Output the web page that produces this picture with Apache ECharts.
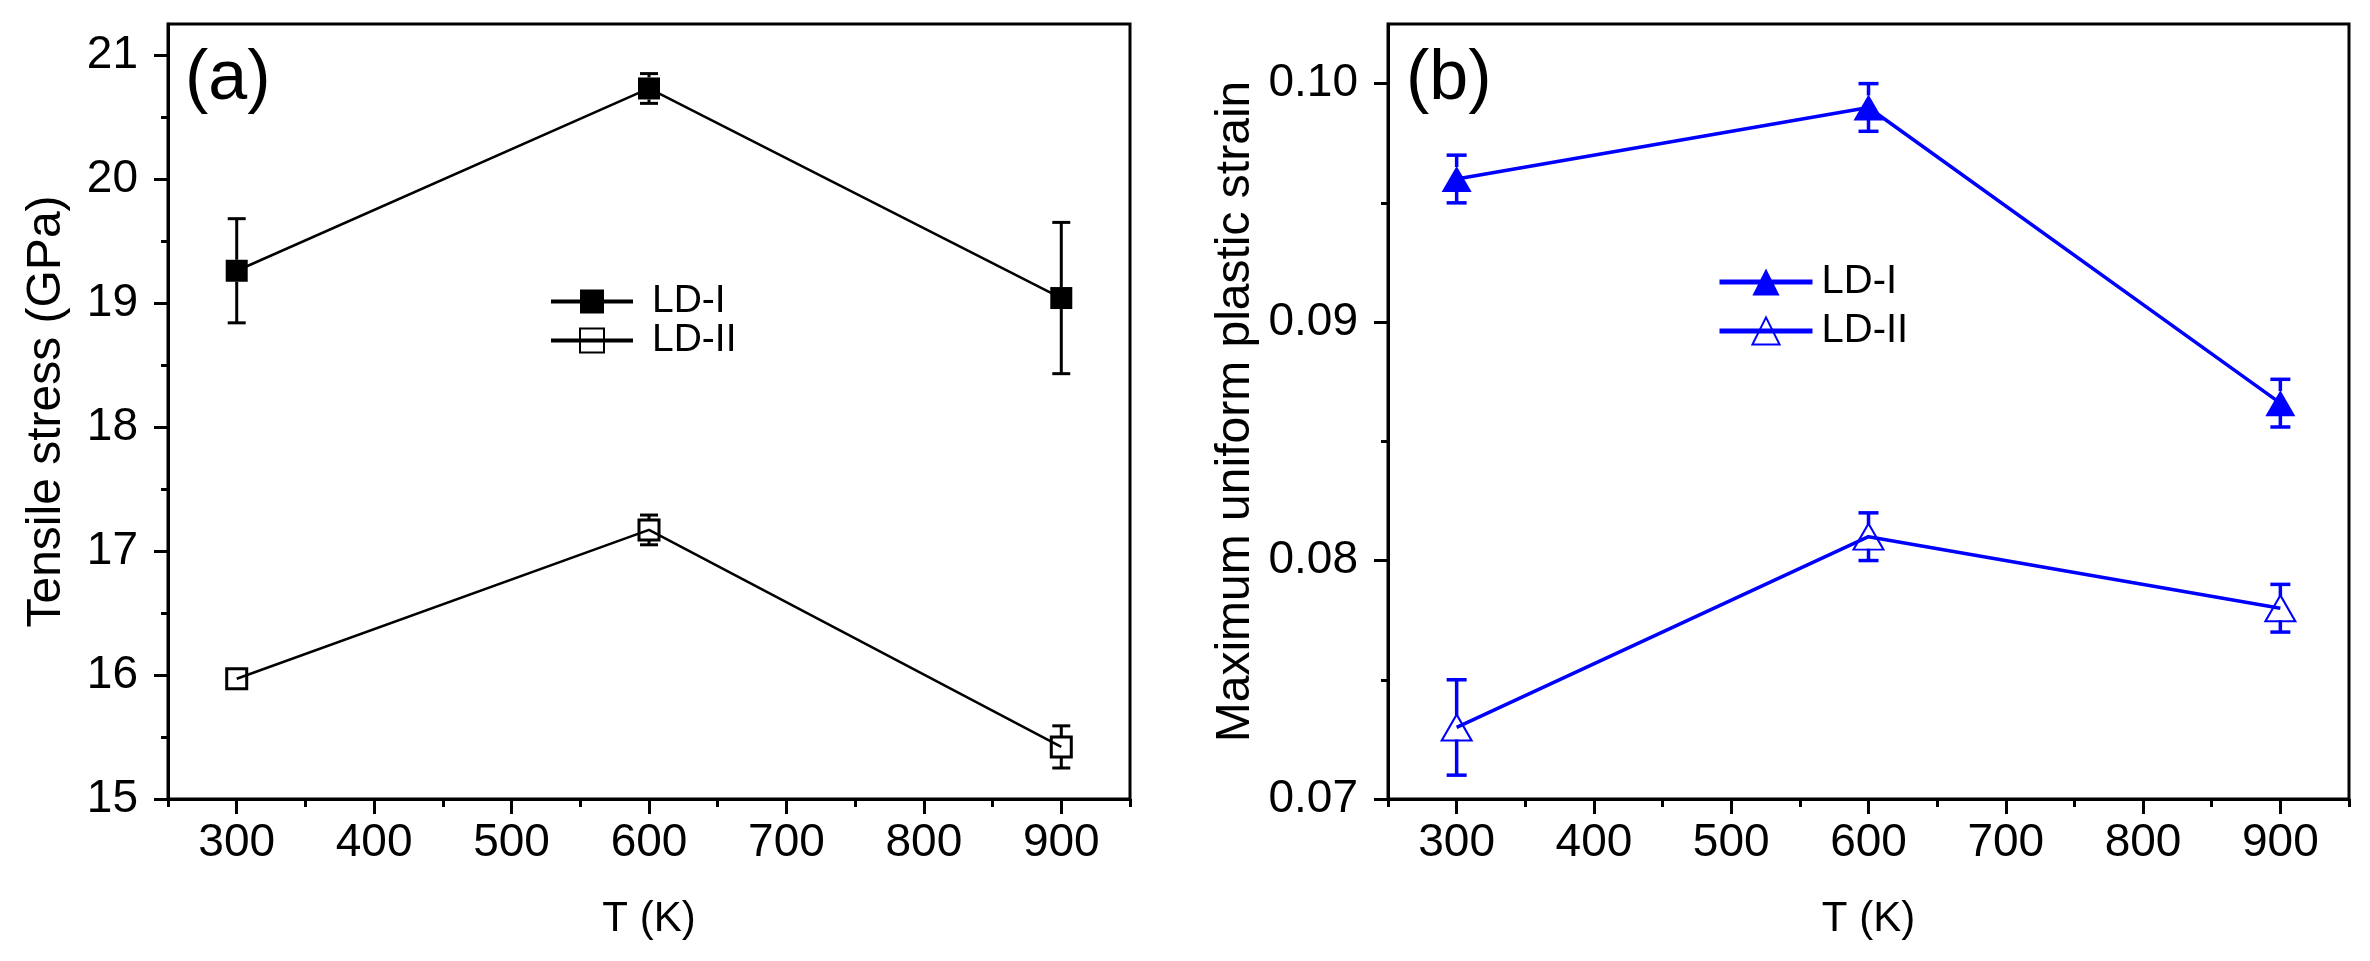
<!DOCTYPE html>
<html>
<head>
<meta charset="utf-8">
<script src="https://cdn.jsdelivr.net/npm/echarts@6/dist/echarts.min.js"></script>
<style>
html,body{margin:0;padding:0;background:#fff;}
#chart{width:2370px;height:961px;}
</style>
</head>
<body>
<div id="chart"></div>
<script>
// ---- data ----
const temps = [300, 600, 900];
const stressLD1 = [19.26, 20.73, 19.04];
const stressLD1Err = [0.42, 0.12, 0.61];
const stressLD2 = [15.97, 17.17, 15.42];
const stressLD2Err = [0.03, 0.12, 0.17];
const strainLD1 = [0.0960, 0.0990, 0.0866];
const strainLD1Err = [0.001, 0.001, 0.001];
const strainLD2 = [0.0730, 0.0810, 0.0780];
const strainLD2Err = [0.002, 0.001, 0.001];

const xMajorTicks = [300, 400, 500, 600, 700, 800, 900];
const xMinorTicks = [250, 350, 450, 550, 650, 750, 850, 950];
const stressMajorTicks = [15, 16, 17, 18, 19, 20, 21];
const stressMinorTicks = [15.5, 16.5, 17.5, 18.5, 19.5, 20.5];
const strainMajorTicks = [0.07, 0.08, 0.09, 0.10];
const strainMinorTicks = [0.075, 0.085, 0.095];

const FONT = "'Liberation Sans', Arial, Helvetica, sans-serif";
const BLUE = '#0000ff';

function pts(xs, ys) { return xs.map((x, i) => [x, ys[i]]); }
function errPts(xs, ys, es) { return xs.map((x, i) => [x, ys[i] - es[i], ys[i] + es[i], ys[i]]); }

function errRender(half, capHalf, color, width) {
  return function (params, api) {
    const x = api.value(0), lo = api.value(1), hi = api.value(2), mid = api.value(3);
    const pHi = api.coord([x, hi]);
    const pLo = api.coord([x, lo]);
    const pMid = api.coord([x, mid]);
    const style = { stroke: color, lineWidth: width, fill: null };
    const children = [];
    if (pMid[1] - pHi[1] > half + 1) {
      children.push({ type: 'line', shape: { x1: pHi[0], y1: pHi[1], x2: pHi[0], y2: pMid[1] - half }, style: style });
      children.push({ type: 'line', shape: { x1: pHi[0] - capHalf, y1: pHi[1], x2: pHi[0] + capHalf, y2: pHi[1] }, style: style });
    }
    if (pLo[1] - pMid[1] > half + 1) {
      children.push({ type: 'line', shape: { x1: pLo[0], y1: pMid[1] + half, x2: pLo[0], y2: pLo[1] }, style: style });
      children.push({ type: 'line', shape: { x1: pLo[0] - capHalf, y1: pLo[1], x2: pLo[0] + capHalf, y2: pLo[1] }, style: style });
    }
    return { type: 'group', children: children };
  };
}

const labelStyle = { fontSize: 46, color: '#000', fontFamily: FONT };
const xNameStyle = { fontSize: 42, color: '#000', fontFamily: FONT };
const yNameStyle = { fontSize: 48, color: '#000', fontFamily: FONT };
const axLine = { show: true, onZero: false, lineStyle: { color: '#000', width: 3 } };
const tickLine = { color: '#000', width: 3 };

function xMain(gi) {
  return {
    gridIndex: gi, type: 'value', min: 250, max: 950, position: 'bottom',
    axisLine: axLine,
    axisTick: { show: true, length: 15, lineStyle: tickLine, customValues: xMajorTicks },
    axisLabel: Object.assign({ customValues: xMajorTicks, margin: 21 }, labelStyle),
    splitLine: { show: false },
    name: 'T (K)', nameLocation: 'middle', nameGap: 99, nameTextStyle: xNameStyle
  };
}
function xMinor(gi) {
  return {
    gridIndex: gi, type: 'value', min: 250, max: 950, position: 'bottom',
    axisLine: { show: false, onZero: false },
    axisTick: { show: true, length: 8, lineStyle: tickLine, customValues: xMinorTicks },
    axisLabel: { show: false }, splitLine: { show: false }
  };
}
function yMain(gi, min, max, ticks, fmt, name, gap) {
  return {
    gridIndex: gi, type: 'value', min: min, max: max, position: 'left',
    axisLine: axLine,
    axisTick: { show: true, length: 14, lineStyle: tickLine, customValues: ticks },
    axisLabel: Object.assign({ customValues: ticks, margin: 30, formatter: fmt }, labelStyle),
    splitLine: { show: false },
    name: name, nameLocation: 'middle', nameGap: gap, nameTextStyle: yNameStyle
  };
}
function yMinor(gi, min, max, ticks) {
  return {
    gridIndex: gi, type: 'value', min: min, max: max, position: 'left',
    axisLine: { show: false, onZero: false },
    axisTick: { show: true, length: 7, lineStyle: tickLine, customValues: ticks },
    axisLabel: { show: false }, splitLine: { show: false }
  };
}

const option = {
  backgroundColor: '#fff',
  animation: false,
  textStyle: { fontFamily: FONT },
  grid: [
    { left: 168, top: 24, width: 962, height: 775, show: true, borderColor: '#000', borderWidth: 3, backgroundColor: 'transparent' },
    { left: 1388, top: 24, width: 961, height: 775, show: true, borderColor: '#000', borderWidth: 3, backgroundColor: 'transparent' }
  ],
  xAxis: [xMain(0), xMinor(0), xMain(1), xMinor(1)],
  yAxis: [
    yMain(0, 15, 21.25, stressMajorTicks, v => String(Math.round(v)), 'Tensile stress (GPa)', 97),
    yMinor(0, 15, 21.25, stressMinorTicks),
    yMain(1, 0.07, 0.1025, strainMajorTicks, v => v.toFixed(2), 'Maximum uniform plastic strain', 128),
    yMinor(1, 0.07, 0.1025, strainMinorTicks)
  ],
  legend: [
    {
      data: ['a:LD-I', 'a:LD-II'], orient: 'vertical', left: 549, top: 282, padding: 0,
      itemWidth: 82, itemHeight: 30, itemGap: 0,
      formatter: n => n.split(':')[1],
      lineStyle: { width: 4 },
      textStyle: { fontSize: 39, lineHeight: 37, color: '#000', fontFamily: FONT, padding: [0, 0, 0, 14] }
    },
    {
      data: ['b:LD-I', 'b:LD-II'], orient: 'vertical', left: 1717, top: 262, padding: 0,
      itemWidth: 93, itemHeight: 34, itemGap: 9,
      formatter: n => n.split(':')[1],
      lineStyle: { width: 5 },
      textStyle: { fontSize: 40, lineHeight: 40, color: '#000', fontFamily: FONT, padding: [0, 0, 0, 4] }
    }
  ],
  graphic: [
    { type: 'text', left: 185, top: 45, style: { text: '(a)', font: '70px ' + FONT, fill: '#000' } },
    { type: 'text', left: 1406, top: 45, style: { text: '(b)', font: '70px ' + FONT, fill: '#000' } }
  ],
  series: [
    {
      type: 'custom', name: 'errA1', xAxisIndex: 0, yAxisIndex: 0, z: 2,
      data: errPts(temps, stressLD1, stressLD1Err), encode: { x: 0, y: [1, 2] },
      renderItem: errRender(11, 9, '#000', 3), silent: true
    },
    {
      type: 'custom', name: 'errA2', xAxisIndex: 0, yAxisIndex: 0, z: 2,
      data: errPts(temps, stressLD2, stressLD2Err), encode: { x: 0, y: [1, 2] },
      renderItem: errRender(10, 9, '#000', 3), silent: true
    },
    {
      type: 'line', name: 'a:LD-I', xAxisIndex: 0, yAxisIndex: 0, z: 3,
      data: pts(temps, stressLD1), symbol: 'rect', symbolSize: 22,
      itemStyle: { color: '#000' }, lineStyle: { color: '#000', width: 2.5 }
    },
    {
      type: 'line', name: 'a:LD-II', xAxisIndex: 0, yAxisIndex: 0, z: 3,
      data: pts(temps, stressLD2), symbol: 'rect', symbolSize: 20,
      itemStyle: { color: 'rgba(255,255,255,0)', borderColor: '#000', borderWidth: 3 },
      lineStyle: { color: '#000', width: 2.5 }
    },
    {
      type: 'custom', name: 'errB1', xAxisIndex: 2, yAxisIndex: 2, z: 2,
      data: errPts(temps, strainLD1, strainLD1Err), encode: { x: 0, y: [1, 2] },
      renderItem: errRender(12, 10, BLUE, 3.5), silent: true
    },
    {
      type: 'custom', name: 'errB2', xAxisIndex: 2, yAxisIndex: 2, z: 2,
      data: errPts(temps, strainLD2, strainLD2Err), encode: { x: 0, y: [1, 2] },
      renderItem: errRender(12, 10, BLUE, 3.5), silent: true
    },
    {
      type: 'line', name: 'b:LD-I', xAxisIndex: 2, yAxisIndex: 2, z: 3,
      data: pts(temps, strainLD1), symbol: 'triangle', symbolSize: [30, 26],
      itemStyle: { color: BLUE }, lineStyle: { color: BLUE, width: 3.5 }
    },
    {
      type: 'line', name: 'b:LD-II', xAxisIndex: 2, yAxisIndex: 2, z: 3,
      data: pts(temps, strainLD2), symbol: 'triangle', symbolSize: [30, 26],
      itemStyle: { color: 'rgba(255,255,255,0)', borderColor: BLUE, borderWidth: 2 },
      lineStyle: { color: BLUE, width: 3.5 }
    }
  ]
};

const chart = echarts.init(document.getElementById('chart'), null, { renderer: 'canvas' });
chart.setOption(option);
</script>
</body>
</html>
